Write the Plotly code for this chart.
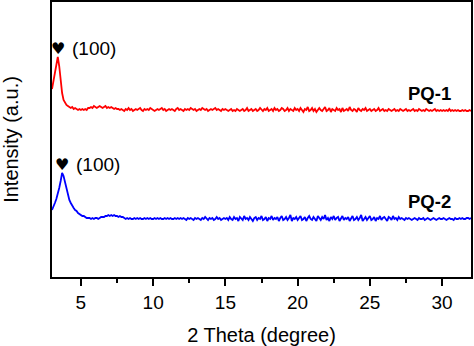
import numpy as np
import plotly.graph_objects as go

# 2-theta scan grid (degrees), step 0.1
two_theta = np.round(np.arange(3.0, 32.0001, 0.1), 1)

# PQ-1 intensity (a.u., offset stack)
pq1 = [
    # 3.0 - 5.5
    188, 196, 207, 216, 220, 211, 196, 184, 177, 174, 172, 171, 170, 169, 170, 168,
    169, 168, 167, 168, 167, 168, 167, 168, 167, 169,
    # 5.6 - 7.5
    169, 170, 169, 171, 170, 169, 170, 171, 170, 169, 170, 171, 169, 170, 169, 170,
    169, 168, 169, 168,
    # 7.6 - 15.0
    168, 167, 168, 167, 166, 168, 167, 169, 167, 168,
    166, 167, 168, 167, 168, 169, 167, 166, 168, 167,
    168, 167, 169, 168, 167, 166, 167, 168, 167, 168,
    169, 167, 168, 166, 167, 168, 167, 168, 167, 166,
    168, 169, 167, 168, 167, 166, 168, 167, 168, 167,
    169, 168, 167, 168, 166, 167, 168, 167, 169, 168,
    167, 168, 166, 167, 168, 167, 168, 169, 167, 168,
    167, 166, 168, 167, 168,
    # 15.1 - 20.0
    167, 166, 167, 168, 166, 167, 166, 168, 167, 166,
    167, 168, 166, 167, 169, 166, 167, 168, 166, 167,
    168, 166, 167, 169, 167, 166, 168, 167, 169, 166,
    167, 168, 166, 169, 167, 168, 166, 167, 169, 168,
    166, 167, 169, 166, 168, 167, 166, 169, 167, 168,
    # 20.1 - 25.0
    166, 169, 167, 165, 168, 167, 170, 166, 167, 169,
    166, 168, 165, 167, 169, 167, 166, 168, 170, 166,
    167, 169, 165, 168, 167, 166, 169, 167, 168, 165,
    169, 166, 167, 168, 166, 170, 167, 166, 168, 167,
    165, 169, 167, 166, 168, 167, 169, 166, 167, 168,
    # 25.1 - 30.0
    166, 167, 168, 166, 167, 169, 166, 167, 168, 166,
    167, 166, 168, 167, 166, 167, 168, 166, 167, 166,
    168, 167, 166, 167, 168, 166, 167, 166, 167, 168,
    166, 167, 166, 168, 167, 166, 167, 166, 168, 167,
    166, 167, 166, 167, 168, 166, 167, 166, 167, 166,
    # 30.1 - 32.0
    167, 166, 167, 166, 168, 166, 167, 166, 167, 166,
    167, 166, 166, 167, 166, 167, 166, 166, 167, 166,
]

# PQ-2 intensity (a.u., offset stack)
pq2 = [
    # 3.0 - 5.5
    67, 70, 74, 78, 83, 89, 96, 104, 101, 95, 88, 82, 77, 74, 71, 69,
    67, 66, 64, 63, 62, 61, 61, 60, 59, 59,
    # 5.6 - 6.4
    59, 58, 59, 58, 59, 59, 58, 59, 60,
    # 6.5 - 7.9
    60, 60, 61, 61, 62, 61, 62, 61, 62, 61, 61, 60, 61, 60, 60,
    # 8.0 - 15.0
    59, 58, 59, 58, 59, 58, 58, 59, 58, 59,
    58, 59, 58, 58, 59, 58, 59, 58, 59, 58,
    58, 59, 58, 59, 58, 59, 58, 58, 59, 58,
    59, 58, 59, 58, 58, 59, 58, 59, 58, 59,
    58, 59, 58, 57, 59, 58, 59, 58, 57, 59,
    58, 59, 58, 57, 59, 58, 60, 58, 57, 59,
    58, 59, 57, 58, 60, 58, 59, 57, 58, 59,
    58,
    # 15.1 - 27.0
    59, 57, 60, 58, 57, 60, 58, 59, 56, 60,
    58, 57, 61, 58, 59, 57, 60, 58, 56, 59,
    60, 57, 59, 58, 61, 57, 58, 60, 56, 59,
    58, 61, 57, 59, 58, 60, 56, 59, 61, 57,
    58, 60, 57, 59, 62, 56, 59, 58, 60, 57,
    59, 61, 57, 58, 60, 56, 59, 61, 58, 57,
    60, 58, 56, 61, 59, 57, 60, 58, 62, 57,
    59, 56, 60, 58, 61, 57, 59, 60, 56, 58,
    61, 57, 59, 58, 60, 56, 59, 61, 57, 58,
    60, 57, 59, 62, 56, 58, 60, 57, 59, 61,
    57, 58, 60, 56, 59, 58, 61, 57, 59, 60,
    58, 56, 60, 59, 57, 61, 58, 59, 57, 60,
    # 27.1 - 32.0
    58, 59, 58, 57, 59, 58, 59, 58, 57, 58,
    59, 58, 57, 59, 58, 58, 59, 57, 58, 59,
    58, 57, 58, 59, 58, 57, 58, 59, 58, 58,
    59, 58, 57, 58, 59, 58, 58, 57, 59, 58,
    58, 59, 58, 59, 58, 58, 59, 59, 58, 59,
]

series_names = ["PQ-1", "PQ-2"]
series_colors = ["#ff0000", "#0000ff"]
peak_label = "(100)"
heart = "\u2665"

x_ticks = [5, 10, 15, 20, 25, 30]

FONT = "Arial, 'Liberation Sans', sans-serif"

fig = go.Figure()
for name, ys, col in zip(series_names, [pq1, pq2], series_colors):
    fig.add_trace(go.Scatter(x=two_theta, y=ys, mode="lines", name=name,
                             line=dict(color=col, width=1.8), showlegend=False))

# peak markers: the (100) reflection of each pattern
for ys in [pq1, pq2]:
    i = int(np.argmax(ys[:20]))
    xp, yp = float(two_theta[i]), ys[i]
    fig.add_annotation(x=xp, y=yp + 9, text=heart, showarrow=False,
                       xanchor="center", yanchor="middle",
                       font=dict(family="DejaVu Sans", size=16, color="black"))
    fig.add_annotation(x=xp + 0.85, y=yp + 9, text=peak_label, showarrow=False,
                       xanchor="left", yanchor="middle",
                       font=dict(family=FONT, size=19, color="black"))

# series labels at the right-hand side
for name, ys in zip(series_names, [pq1, pq2]):
    fig.add_annotation(x=29.1, y=float(np.mean(ys[-60:])) + 17, text=f"<b>{name}</b>",
                       showarrow=False, xanchor="center", yanchor="middle",
                       font=dict(family=FONT, size=18.5, color="black"))

fig.update_xaxes(range=[3, 32], tickvals=x_ticks, ticks="outside", ticklen=7,
                 tickwidth=1.5, tickcolor="black",
                 minor=dict(dtick=2.5, tick0=0, ticks="outside", ticklen=4,
                            tickwidth=1.5, tickcolor="black"),
                 showline=True, linecolor="black", linewidth=1.5, mirror=True,
                 showgrid=False, zeroline=False,
                 tickfont=dict(family=FONT, size=19, color="black"),
                 title=dict(text="2 Theta (degree)", standoff=16,
                            font=dict(family=FONT, size=20, color="black")))
fig.update_yaxes(range=[0, 275], showticklabels=False, ticks="",
                 showline=True, linecolor="black", linewidth=1.5, mirror=True,
                 showgrid=False, zeroline=False,
                 title=dict(text="Intensity (a.u.)", standoff=32,
                            font=dict(family=FONT, size=20, color="black")))

fig.update_layout(width=474, height=346,
                  margin=dict(l=52, r=3, t=2, b=69, autoexpand=False),
                  paper_bgcolor="white", plot_bgcolor="white")

fig.write_html("out.html")
